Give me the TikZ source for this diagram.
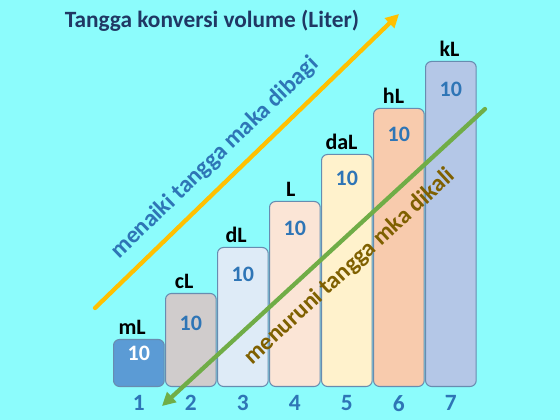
\documentclass[tikz,border=0pt]{standalone}
\usepackage{fontspec}
\setmainfont{Carlito}
\usetikzlibrary{positioning,arrows.meta}

\definecolor{sky}{RGB}{140,252,252}
\definecolor{barline}{RGB}{104,140,176}
\definecolor{tenblue}{RGB}{46,117,182}
\definecolor{titlenavy}{RGB}{32,56,100}
\definecolor{upyellow}{RGB}{255,192,0}
\definecolor{downgreen}{RGB}{112,173,71}
\definecolor{downbrown}{RGB}{127,96,0}
\definecolor{ml}{RGB}{91,155,213}
\definecolor{cl}{RGB}{208,204,204}
\definecolor{dl}{RGB}{222,235,247}
\definecolor{l}{RGB}{251,229,214}
\definecolor{dal}{RGB}{255,242,204}
\definecolor{hl}{RGB}{248,203,173}
\definecolor{kl}{RGB}{180,199,231}

\begin{document}
\begin{tikzpicture}[x=0.75pt, y=-0.75pt,
    bar/.style = {draw=barline, line width=0.8pt, rounded corners=4.5pt, minimum width=38pt, inner sep=0pt, anchor=south west},
    unit/.style = {font=\bfseries\fontsize{16.5}{16.5}\selectfont, inner sep=1pt},
    ten/.style = {font=\bfseries\fontsize{16.5}{16.5}\selectfont, text=tenblue, inner sep=1pt},
    rung/.style = {font=\bfseries\fontsize{17.5}{17.5}\selectfont, text=tenblue, inner sep=1pt},
    note/.style = {font=\bfseries\fontsize{18}{18}\selectfont, inner sep=1pt}]
    \fill[sky] (0,0) rectangle (560,420);
    \useasboundingbox (0,0) rectangle (560,420);

    \node[font=\bfseries\fontsize{17.5}{17.5}\selectfont, text=titlenavy] (title) at (212,21) {Tangga konversi volume (Liter)};

    % bars
    \node[bar, fill=ml,  minimum height=35.25pt] (1) at (113,387) {};
    \node[bar, fill=cl,  minimum height=69.75pt] (2) at (165,387) {};
    \node[bar, fill=dl,  minimum height=104.25pt] (3) at (217,387) {};
    \node[bar, fill=l,   minimum height=138.75pt] (4) at (269,387) {};
    \node[bar, fill=dal, minimum height=174pt] (5) at (321,387) {};
    \node[bar, fill=hl,  minimum height=208.5pt] (6) at (373,387) {};
    \node[bar, fill=kl,  minimum height=243.75pt] (7) at (425,387) {};

    \node[unit] (u1) [above=2pt of 1.north, xshift=-5pt] {mL};
    \node[unit] (u2) [above=2pt of 2.north, xshift=-5pt] {cL};
    \node[unit] (u3) [above=2pt of 3.north, xshift=-5pt] {dL};
    \node[unit] (u4) [above=2pt of 4.north, xshift=-3pt] {L};
    \node[unit] (u5) [above=2pt of 5.north, xshift=-4pt] {daL};
    \node[unit] (u6) [above=2pt of 6.north, xshift=-4pt] {hL};
    \node[unit] (u7) [above=2pt of 7.north, xshift=-1pt] {kL};

    \node[ten, text=white] (t1) [below=4pt of 1.north] {10};
    \node[ten] (t2) [below=16pt of 2.north] {10};
    \node[ten] (t3) [below=14pt of 3.north] {10};
    \node[ten] (t4) [below=14pt of 4.north] {10};
    \node[ten] (t5) [below=12pt of 5.north] {10};
    \node[ten] (t6) [below=13pt of 6.north] {10};
    \node[ten] (t7) [below=15pt of 7.north] {10};

    \node[rung] (n1) [below=5pt of 1.south] {1};
    \node[rung] (n2) [below=5pt of 2.south] {2};
    \node[rung] (n3) [below=5pt of 3.south] {3};
    \node[rung] (n4) [below=5pt of 4.south] {4};
    \node[rung] (n5) [below=5pt of 5.south] {5};
    \node[rung] (n6) [below=5pt of 6.south] {6};
    \node[rung] (n7) [below=5pt of 7.south] {7};

    % arrows
    \coordinate (upstart) at (95,308);
    \coordinate (upend) at (399,14);
    \coordinate (downstart) at (485,109);
    \coordinate (downend) at (162,406);
    \draw[upyellow, line width=3.2pt, line cap=round, -{Triangle[length=10pt, width=10pt]}] (upstart) -- node[note, text=tenblue, pos=0.45, sloped, above=8pt] (upnote) {menaiki tangga maka dibagi} (upend);
    \draw[downgreen, line width=3.2pt, line cap=round, {Triangle[length=10pt, width=10pt]}-] (downend) -- node[note, text=downbrown, pos=0.53, sloped, below=8pt] (downnote) {menuruni tangga mka dikali} (downstart);
\end{tikzpicture}
\end{document}
